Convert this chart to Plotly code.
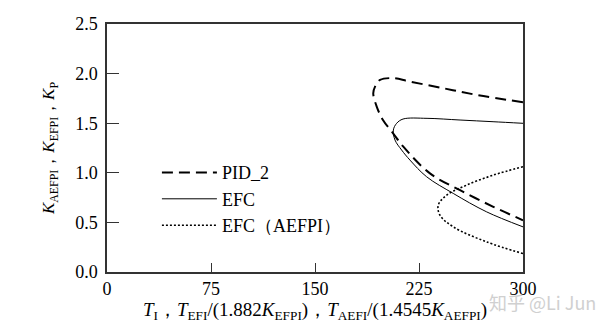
import plotly.graph_objects as go

# PID_2 (dashed) loop
pid_x = [300, 266.8, 242.3, 218.5, 206.2, 196.9, 193.3, 192.0, 194.5, 199.0, 206.2, 213.7, 232.9, 254.6, 278.6, 300]
pid_y = [1.711, 1.785, 1.853, 1.919, 1.954, 1.936, 1.869, 1.802, 1.667, 1.532, 1.401, 1.263, 0.994, 0.825, 0.657, 0.522]

# EFC (solid)
efc_x = [300, 278.4, 254.6, 230.8, 213.5, 208.9, 206.5, 207.7, 212.5, 218.5, 230.5, 249.7, 273.8, 300]
efc_y = [1.499, 1.515, 1.532, 1.549, 1.542, 1.499, 1.431, 1.330, 1.229, 1.128, 0.960, 0.792, 0.606, 0.455]

# EFC (AEFPI) (dotted)
aef_x = [300, 278.6, 259.4, 245.0, 238.9, 240.1, 249.7, 273.8, 300]
aef_y = [1.061, 0.977, 0.876, 0.775, 0.674, 0.573, 0.455, 0.303, 0.186]

x_ticks = [0, 75, 150, 225, 300]
y_ticks = [0.0, 0.5, 1.0, 1.5, 2.0, 2.5]

FONT = "Liberation Serif, Times New Roman, serif"

fig = go.Figure()
fig.add_trace(go.Scatter(x=pid_x, y=pid_y, mode="lines", name="PID_2",
                         line=dict(color="black", width=2, dash="11px,6px", shape="spline", smoothing=1.0)))
fig.add_trace(go.Scatter(x=efc_x, y=efc_y, mode="lines", name="EFC",
                         line=dict(color="black", width=1, shape="spline", smoothing=1.0)))
fig.add_trace(go.Scatter(x=aef_x, y=aef_y, mode="lines", name="EFC（AEFPI）",
                         line=dict(color="black", width=1.6, dash="2px,2px", shape="spline", smoothing=1.0)))

axis_common = dict(showgrid=False, zeroline=False, showline=True, linecolor="#333",
                   linewidth=1.5, mirror=True, ticks="inside", tickcolor="#333",
                   tickfont=dict(family=FONT, size=18, color="black"))

fig.update_xaxes(range=[0, 300], tickvals=x_ticks, ticktext=[str(v) for v in x_ticks],
                 ticklen=9, **axis_common,
                 title=dict(text="<i>T</i><sub>I</sub>，<i>T</i><sub>EFI</sub>/(1.882<i>K</i><sub>EFPI</sub>)，<i>T</i><sub>AEFI</sub>/(1.4545<i>K</i><sub>AEFPI</sub>)",
                            font=dict(family=FONT, size=19, color="black"), standoff=4))
fig.update_yaxes(range=[0, 2.5], tickvals=y_ticks, ticktext=[f"{v:.1f}" for v in y_ticks],
                 ticklen=12, ticklabelstandoff=4, **axis_common,
                 title=dict(text="<i>K</i><sub>AEFPI</sub>，<i>K</i><sub>EFPI</sub>，<i>K</i><sub>P</sub>",
                            font=dict(family=FONT, size=17, color="black"), standoff=16))

fig.add_annotation(text="知乎 @Li Jun", xref="paper", yref="paper", x=1.18, y=-0.12,
                   showarrow=False, xanchor="right", yanchor="middle",
                   font=dict(family="Noto Sans CJK SC", size=18, color="#d0d0d0"))

fig.update_layout(
    width=613, height=329,
    margin=dict(l=107, r=90, t=24, b=57),
    paper_bgcolor="white", plot_bgcolor="white",
    showlegend=True,
    legend=dict(x=0.12, y=0.475, xanchor="left", yanchor="top", itemwidth=55,
                font=dict(family=FONT, size=18, color="black"),
                bgcolor="rgba(0,0,0,0)", tracegroupgap=0),
)

fig.write_html("out.html")
